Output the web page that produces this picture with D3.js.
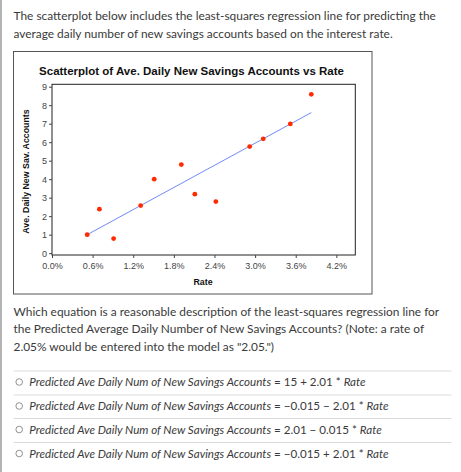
<!DOCTYPE html>
<html>
<head>
<meta charset="utf-8">
<script src="https://cdn.jsdelivr.net/npm/d3@7"></script>
<style>
    body { margin: 0; background: #fff; }
    svg { display: block; }
</style>
</head>
<body>
<div id="chart"></div>
<script>
// values
const rates = [0.52, 0.70, 0.91, 1.31, 1.51, 1.91, 2.11, 2.42, 2.92, 3.12, 3.52, 3.83];
const accounts = [1.0, 2.38, 0.79, 2.57, 4.0, 4.79, 3.19, 2.79, 5.76, 6.18, 6.99, 8.59];
const lineRates = [0.52, 3.83];
const lineValues = [1.0, 7.6];
const xTicks = [0, 0.6, 1.2, 1.8, 2.4, 3.0, 3.6, 4.2];
const yTicks = [0, 1, 2, 3, 4, 5, 6, 7, 8, 9];

const introLines = [
    "The scatterplot below includes the least-squares regression line for predicting the",
    "average daily number of new savings accounts based on the interest rate."
];
const questionLines = [
    "Which equation is a reasonable description of the least-squares regression line for",
    "the Predicted Average Daily Number of New Savings Accounts? (Note: a rate of",
    "2.05% would be entered into the model as \"2.05.\")"
];
const optionLabel = "Predicted Ave Daily Num of New Savings Accounts";
const optionRhs = [
    " = 15 + 2.01 * ",
    " = \u22120.015 \u2212 2.01 * ",
    " = 2.01 \u2212 0.015 * ",
    " = \u22120.015 + 2.01 * "
];

const width = 461;
const height = 472;
const textColour = "#3a3a3a";
const chartFont = "Liberation Sans, Arial, sans-serif";

const svg = d3.select("#chart").append("svg")
    .attr("width", width)
    .attr("height", height);

// grey bar on the left edge
svg.append("rect")
    .attr("x", 0).attr("y", 0)
    .attr("width", 2).attr("height", height)
    .attr("fill", "#b4b4b4");

// intro paragraph
svg.append("g")
    .selectAll("text")
    .data(introLines)
    .join("text")
    .attr("x", 13.5)
    .attr("y", (d, i) => 20 + i * 18)
    .attr("font-family", "Lato")
    .attr("font-size", 11.9)
    .attr("fill", textColour)
    .text(d => d);

// outer chart box
svg.append("rect")
    .attr("x", 13.5).attr("y", 51.5)
    .attr("width", 358.5).attr("height", 242.5)
    .attr("fill", "none")
    .attr("stroke", "#555")
    .attr("stroke-width", 1);

// plot dimensions
const plotLeft = 52;
const plotRight = 355.3;
const plotTop = 84.3;
const plotBottom = 255;

const x = d3.scaleLinear()
    .domain([0, 4.48])
    .range([plotLeft, plotRight]);

const y = d3.scaleLinear()
    .domain([-0.1, 9.13])
    .range([plotBottom, plotTop]);

// chart heading
svg.append("text")
    .attr("x", 191.5)
    .attr("y", 74.5)
    .attr("text-anchor", "middle")
    .attr("font-family", chartFont)
    .attr("font-weight", "bold")
    .attr("font-size", 11.5)
    .attr("fill", "#111")
    .text("Scatterplot of Ave. Daily New Savings Accounts vs Rate");

// frame round the plot
svg.append("rect")
    .attr("x", plotLeft).attr("y", plotTop)
    .attr("width", plotRight - plotLeft).attr("height", plotBottom - plotTop)
    .attr("fill", "none")
    .attr("stroke", "#222")
    .attr("stroke-width", 1);

// y axis
svg.append("g")
    .attr("transform", `translate(${plotLeft},0)`)
    .call(d3.axisLeft(y).tickValues(yTicks).tickSize(3).tickPadding(2).tickFormat(d3.format("d")))
    .call(g => g.select(".domain").remove())
    .call(g => g.selectAll(".tick line").attr("stroke", "#444"))
    .call(g => g.selectAll(".tick text")
        .attr("font-family", chartFont)
        .attr("font-size", 9)
        .attr("fill", "#444"));

// x axis
svg.append("g")
    .attr("transform", `translate(0,${plotBottom})`)
    .call(d3.axisBottom(x).tickValues(xTicks).tickSize(3).tickPadding(4.3).tickFormat(d => d.toFixed(1) + "%"))
    .call(g => g.select(".domain").remove())
    .call(g => g.selectAll(".tick line").attr("stroke", "#444"))
    .call(g => g.selectAll(".tick text")
        .attr("font-family", chartFont)
        .attr("font-size", 9)
        .attr("fill", "#444"));

// axis titles
svg.append("text")
    .attr("x", 203)
    .attr("y", 285)
    .attr("text-anchor", "middle")
    .attr("font-family", chartFont)
    .attr("font-weight", "bold")
    .attr("font-size", 8.8)
    .attr("fill", "#111")
    .text("Rate");

svg.append("text")
    .attr("transform", "translate(28.5,171.5) rotate(-90)")
    .attr("text-anchor", "middle")
    .attr("font-family", chartFont)
    .attr("font-weight", "bold")
    .attr("font-size", 8.8)
    .attr("fill", "#111")
    .text("Ave. Daily New Sav. Accounts");

// regression line
svg.append("line")
    .attr("x1", x(lineRates[0])).attr("y1", y(lineValues[0]))
    .attr("x2", x(lineRates[1])).attr("y2", y(lineValues[1]))
    .attr("stroke", "#4a6cf7")
    .attr("stroke-width", 0.8);

// points
svg.append("g")
    .selectAll("circle")
    .data(rates.map((r, i) => ({ rate: r, value: accounts[i] })))
    .join("circle")
    .attr("cx", d => x(d.rate))
    .attr("cy", d => y(d.value))
    .attr("r", 2.4)
    .attr("fill", "#ff2a00");

// question paragraph
svg.append("g")
    .selectAll("text")
    .data(questionLines)
    .join("text")
    .attr("x", 13.5)
    .attr("y", (d, i) => 315.5 + i * 17.8)
    .attr("font-family", "Lato")
    .attr("font-size", 11.9)
    .attr("fill", textColour)
    .text(d => d);

// answer options
const separatorsY = [371, 395, 418.5, 442.5];
svg.append("g")
    .selectAll("line")
    .data(separatorsY)
    .join("line")
    .attr("x1", 13.5).attr("x2", 451.5)
    .attr("y1", d => d).attr("y2", d => d)
    .attr("stroke", "#dcdcdc")
    .attr("stroke-width", 1);

const options = svg.append("g")
    .selectAll("g")
    .data(optionRhs)
    .join("g")
    .attr("transform", (d, i) => `translate(0,${separatorsY[i] + 11})`);

options.append("circle")
    .attr("cx", 19.2)
    .attr("cy", 0)
    .attr("r", 3.3)
    .attr("fill", "#fff")
    .attr("stroke", "#777")
    .attr("stroke-width", 0.8);

const optText = options.append("text")
    .attr("x", 29.3)
    .attr("y", 4)
    .attr("font-family", "Lato")
    .attr("font-size", 11.6)
    .attr("fill", textColour);

optText.append("tspan").attr("font-style", "italic").text(optionLabel);
optText.append("tspan").text(d => d);
optText.append("tspan").attr("font-style", "italic").text("Rate");
</script>
</body>
</html>
